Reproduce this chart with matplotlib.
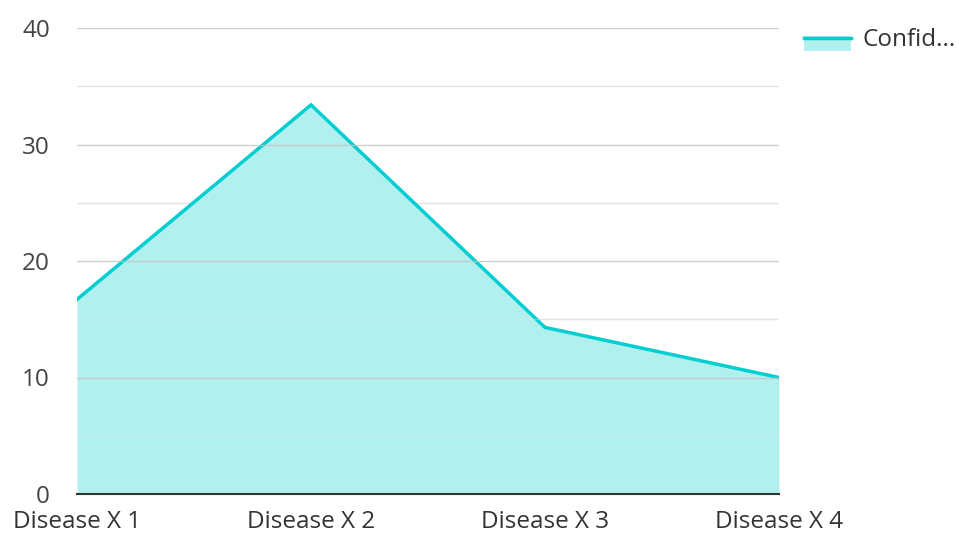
import matplotlib.pyplot as plt
from matplotlib.legend_handler import HandlerBase
from matplotlib.patches import Rectangle
from matplotlib.lines import Line2D

plt.rcParams['font.family'] = ['Open Sans', 'DejaVu Sans']

categories = ["Disease X 1", "Disease X 2", "Disease X 3", "Disease X 4"]
values = [16.7, 33.4, 14.3, 10.0]
series_name = "Confid..."

line_color = '#00CED1'
fill_color = '#b2f0f0'


class AreaHandler(HandlerBase):
    def create_artists(self, legend, orig_handle, xdescent, ydescent,
                       width, height, fontsize, trans):
        mid = -ydescent + height / 2 + 1
        rect = Rectangle((-xdescent, mid - height), width, height,
                         facecolor=fill_color, edgecolor='none', transform=trans)
        ln = Line2D([-xdescent, -xdescent + width], [mid - 1.2] * 2,
                    color=line_color, lw=2.5, transform=trans)
        return [rect, ln]


fig = plt.figure(figsize=(9.59, 5.34), dpi=100)
ax = fig.add_axes([77 / 959, 1 - 494 / 534, (779 - 77) / 959, (494 - 28) / 534])

x = list(range(len(categories)))
ax.fill_between(x, values, 0, color=fill_color, lw=0, zorder=2)
ax.plot(x, values, color=line_color, lw=2.5, zorder=3, solid_joinstyle='miter')

ax.set_xlim(0, len(categories) - 1)
ax.set_ylim(0, 40)
ax.set_yticks([0, 10, 20, 30, 40])
ax.set_xticks(x)
ax.set_xticklabels(categories)

for yv in [10, 20, 30, 40]:
    ax.axhline(yv, color='#c4c4c4', lw=1, zorder=4 if yv < 40 else 1, alpha=0.8)
for yv in [5, 15, 25, 35]:
    ax.axhline(yv, color='#e4e4e4', lw=1, zorder=1)
for yv in [5, 15]:
    ax.axhline(yv, color='#e4e4e4', lw=1, zorder=4, alpha=0.35)

for s in ['top', 'right', 'left']:
    ax.spines[s].set_visible(False)
ax.spines['bottom'].set_color('#333333')
ax.spines['bottom'].set_linewidth(1.5)
ax.spines['bottom'].set_zorder(5)

ax.tick_params(axis='y', which='both', length=0, pad=19.5, labelsize=17.5, labelcolor='#444444')
ax.tick_params(axis='x', which='both', length=0, pad=11.5, labelsize=17.5, labelcolor='#333333')

fig.legend([object()], [series_name], handler_map={object: AreaHandler()},
           loc='center left', bbox_to_anchor=(804 / 959, 1 - 40 / 534),
           frameon=False, fontsize=17.5, handlelength=1.95, handleheight=0.6,
           handletextpad=0.45, borderpad=0, borderaxespad=0, labelcolor='#333333')

fig.savefig('out.png', dpi=100)
